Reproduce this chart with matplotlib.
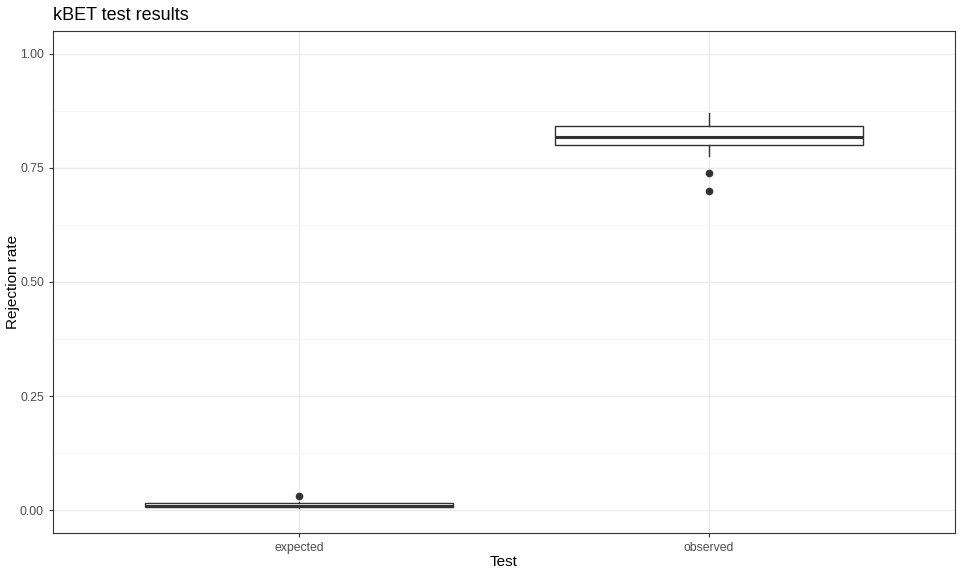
import matplotlib
matplotlib.use("Agg")
import matplotlib.pyplot as plt
import numpy as np

plt.rcParams['font.family'] = ['Liberation Sans', 'DejaVu Sans']

# box statistics
tests = ["expected", "observed"]
q1 = [0.008, 0.801]
med = [0.010, 0.818]
q3 = [0.015, 0.841]
whislo = [0.005, 0.777]
whishi = [0.017, 0.871]
outliers = [[0.031], [0.738, 0.699]]

stats = []
for i in range(len(tests)):
    stats.append(dict(label=tests[i], q1=q1[i], med=med[i], q3=q3[i],
                      whislo=whislo[i], whishi=whishi[i], fliers=outliers[i]))

fig = plt.figure(figsize=(9.63, 5.76), dpi=100)
ax = fig.add_axes([0.055, 0.0747, 0.9367, 0.8715])

dark = "#333333"
ax.bxp(stats, positions=[1, 2], widths=0.75, patch_artist=True, showcaps=False,
       boxprops=dict(facecolor="white", edgecolor=dark, linewidth=1.0),
       medianprops=dict(color=dark, linewidth=2.2),
       whiskerprops=dict(color=dark, linewidth=1.0),
       flierprops=dict(marker="o", markerfacecolor=dark, markeredgecolor=dark, markersize=4.5),
       zorder=3)

ax.set_xlim(0.4, 2.6)
ax.set_ylim(-0.05, 1.05)
ax.set_yticks([0, 0.25, 0.5, 0.75, 1.0])
ax.set_yticklabels(["0.00", "0.25", "0.50", "0.75", "1.00"])
ax.set_yticks([0.125, 0.375, 0.625, 0.875], minor=True)
ax.set_xticks([1, 2])
ax.set_xticklabels(tests)

ax.grid(which="major", color="#EBEBEB", linewidth=1.0, zorder=0)
ax.grid(which="minor", axis="y", color="#F5F5F5", linewidth=0.6, zorder=0)
ax.set_axisbelow(True)
for s in ax.spines.values():
    s.set_color(dark)
    s.set_linewidth(0.8)

ax.tick_params(which="major", colors=dark, labelcolor="#4D4D4D", labelsize=8.8, length=3)
ax.tick_params(which="minor", length=0)

ax.set_xlabel("Test", fontsize=11)
ax.set_ylabel("Rejection rate", fontsize=11)
ax.yaxis.set_label_coords(-0.036, 0.5)
ax.xaxis.set_label_coords(0.5, -0.044)
ax.set_title("kBET test results", fontsize=13, loc="left", pad=8)

fig.savefig("out.png", dpi=100)
